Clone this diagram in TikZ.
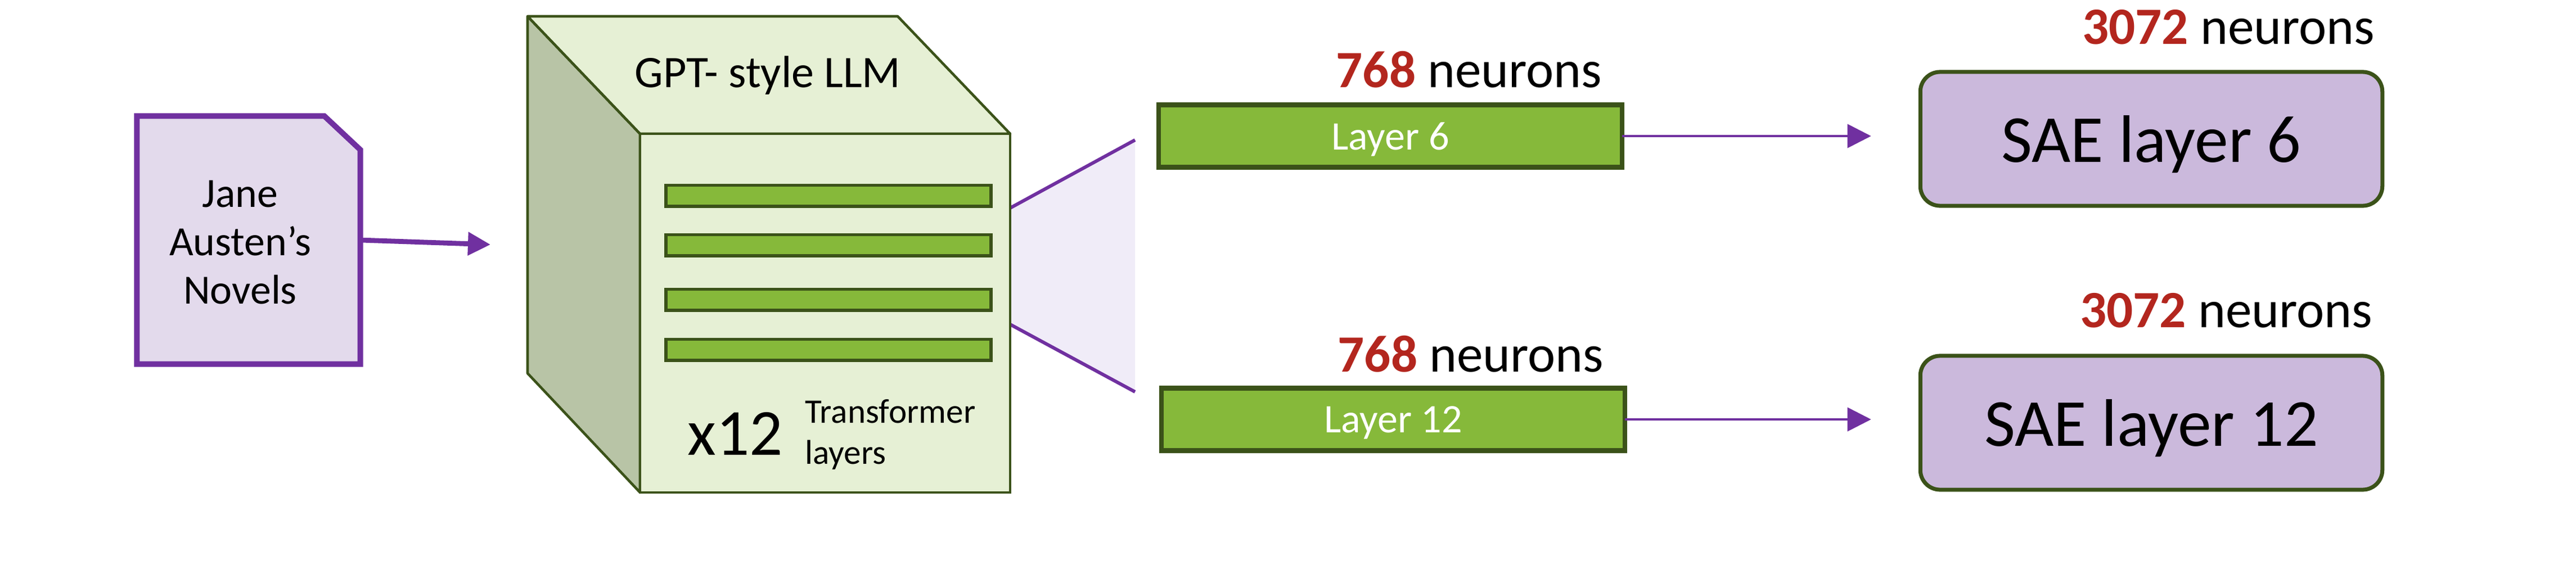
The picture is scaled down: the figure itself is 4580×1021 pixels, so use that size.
\documentclass[tikz,border=0pt]{standalone}
\usepackage{fontspec}
\setmainfont{Carlito}
\usetikzlibrary{arrows.meta,calc}
\definecolor{austenpurple}{HTML}{7030A0}
\definecolor{docfill}{HTML}{E3DAEC}
\definecolor{llmgreen}{HTML}{3B5219}
\definecolor{llmlight}{HTML}{E6F0D5}
\definecolor{llmside}{HTML}{B8C4A6}
\definecolor{bargreen}{HTML}{86B93A}
\definecolor{saefill}{HTML}{CBB9DC}
\definecolor{fanfill}{HTML}{F0ECF8}
\definecolor{countred}{HTML}{B3261E}
\tikzset{
  doc/.style={minimum width=3.97cm, minimum height=4.41cm, inner sep=0, outer sep=0},
  docline/.style={draw=austenpurple, fill=docfill, line width=2.8pt, line join=miter},
  doctext/.style={align=center, inner sep=0, font=\fontsize{21pt}{24.5pt}\selectfont},
  cubeline/.style={draw=llmgreen, line width=1.3pt, line join=round},
  cubefront/.style={draw=llmgreen, fill=llmlight, line width=1.3pt, minimum width=6.58cm, minimum height=6.38cm, inner sep=0, outer sep=0},
  tbar/.style={draw=llmgreen, fill=bargreen, line width=1.7pt, minimum width=5.77cm, minimum height=0.37cm, inner sep=0},
  layerbox/.style={draw=llmgreen, fill=bargreen, line width=2.3pt, minimum width=8.24cm, minimum height=1.11cm, inner sep=0, outer sep=0, text=white, text depth=0pt, font=\fontsize{20.5pt}{24pt}\selectfont},
  saebox/.style={draw=llmgreen, fill=saefill, line width=2pt, rounded corners=0.35cm, minimum width=8.21cm, minimum height=2.38cm, inner sep=0, outer sep=0, text depth=0pt, font=\fontsize{34pt}{40pt}\selectfont},
  count/.style={anchor=base, inner sep=0, font=\fontsize{26.5pt}{31pt}\selectfont},
  fanline/.style={draw=austenpurple, line width=1.7pt},
  feed/.style={draw=austenpurple, line width=2.5pt, -{Triangle[length=0.4cm, width=0.4cm]}},
  sparse/.style={draw=austenpurple, line width=1.1pt, -{Triangle[length=0.42cm, width=0.42cm]}, shorten >=0.875cm}
}
\begin{document}
\begin{tikzpicture}[x=0.01cm, y=-0.01cm]
  \useasboundingbox (0,0) rectangle (4580,1021);
  % novels
  \node[doc] (jane) at (442,427) {};
  \draw[docline] (jane.north west) -- ($(jane.north east)+(-64,0)$) -- ($(jane.north east)+(0,60)$)
    -- (jane.south east) -- (jane.south west) -- cycle;
  \node[doctext] (janetext) at (427,431) {Jane\\Austen’s\\Novels};
  \coordinate (llmin) at (872,435);
  % zoom onto two layers
  \fill[fanfill] (1796,370) -- (2018,249) -- (2018,697) -- (1796,577) -- cycle;
  \draw[fanline] (1796,370) -- (2018,249);
  \draw[fanline] (1796,577) -- (2018,697);
  % the llm cube
  \filldraw[cubeline, fill=llmside] (938,29) -- (1138,238) -- (1138,876) -- (938,664) -- cycle;
  \filldraw[cubeline, fill=llmlight] (938,29) -- (1596,29) -- (1796,238) -- (1138,238) -- cycle;
  \node[cubefront] (llm) at (1467,557) {};
  \node[anchor=base, inner sep=0, font=\fontsize{22.8pt}{27pt}\selectfont] (gpt) at (1365,155) {GPT- style LLM};
  \foreach \y [count=\i] in {348,436,533,622}
    \node[tbar] (bar\i) at (1473,\y) {};
  \node[anchor=base west, inner sep=0, font=\fontsize{33.3pt}{40pt}\selectfont] (reps) at (1222,809) {x12};
  \node[anchor=base west, inner sep=0, font=\fontsize{17.4pt}{21pt}\selectfont] (tf1) at (1431,752) {Transformer};
  \node[anchor=base west, inner sep=0, font=\fontsize{17.4pt}{21pt}\selectfont] (tf2) at (1431,825) {layers};
  % residual streams
  \node[layerbox] (layer6) at (2472,242) {Layer 6};
  \node[layerbox] (layer12) at (2477,746) {Layer 12};
  \node[count] (n6) at (2612,156) {\textbf{\color{countred}768} neurons};
  \node[count] (n12) at (2615,661) {\textbf{\color{countred}768} neurons};
  % sparse autoencoders
  \node[saebox] (sae6) at (3825,247) {SAE layer 6};
  \node[saebox] (sae12) at (3825,752) {SAE layer 12};
  \node[count] (m6) at (3962,78) {\textbf{\color{countred}3072} neurons};
  \node[count] (m12) at (3958,582) {\textbf{\color{countred}3072} neurons};
  \begin{scope}
    \draw[feed] (jane.east) -- (llmin);
    \draw[sparse] (layer6.east) -- (layer6.east -| sae6.west);
    \draw[sparse] (layer12.east) -- (layer12.east -| sae12.west);
  \end{scope}
\end{tikzpicture}
\end{document}
